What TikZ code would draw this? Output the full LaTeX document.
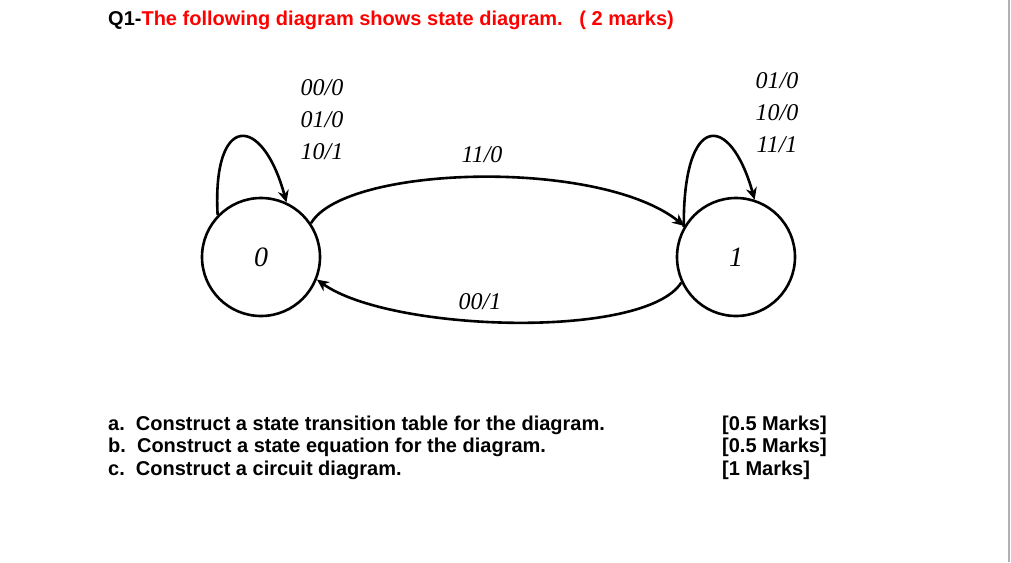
\documentclass[tikz,border=0pt]{standalone}
\usepackage{fontspec}
\setmainfont{Liberation Serif}
\setsansfont{Liberation Sans}
\usetikzlibrary{arrows.meta}
\definecolor{qred}{RGB}{255,0,0}
\begin{document}
\begin{tikzpicture}[x=1pt, y=-1pt,
  state/.style={draw, circle, line width=2.6pt, minimum size=118pt, font=\fontsize{28}{28}\selectfont\itshape},
  trans/.style={line width=2.6pt, -{Stealth[length=12pt,width=11pt]}},
  lbl/.style={font=\fontsize{24}{32}\selectfont\itshape, align=center, inner sep=0pt},
  txt/.style={font=\sffamily\bfseries\fontsize{20}{22.5}\selectfont, anchor=west, inner sep=0pt, align=left}]
\useasboundingbox (0,0) rectangle (1011,562);
\draw[gray!60, line width=1.5pt] (1009,0) -- (1009,562);
\node[txt] (title) at (108,20) {Q1-\textcolor{qred}{The following diagram shows state diagram.\ \ \ ( 2 marks)}};
\node[state] (s0) at (261,257) {0};
\node[state] (s1) at (736,257) {1};
\node[lbl] (l0) at (322,120) {00/0\\01/0\\10/1};
\node[lbl] (l1) at (777,113) {01/0\\10/0\\11/1};
\node[lbl] (l01) at (482,155) {11/0};
\node[lbl] (l10) at (480,302) {00/1};
\draw[trans] (s0.136) .. controls (212,113) and (262,113) .. (s0.65);
\draw[trans] (s1.150) .. controls (683,112) and (730,112) .. (s1.72);
\draw[trans] (s0.34) .. controls (345,165) and (600,158) .. (s1.149);
\draw[trans] (s1.205) .. controls (645,340) and (390,332) .. (s0.338);
\node[txt] (qa) at (108,425) {a.\ \ Construct a state transition table for the diagram.};
\node[txt] (qb) at (108,447) {b.\ \ Construct a state equation for the diagram.};
\node[txt] (qc) at (108,470) {c.\ \ Construct a circuit diagram.};
\node[txt] (ma) at (722,425) {[0.5 Marks]};
\node[txt] (mb) at (722,447) {[0.5 Marks]};
\node[txt] (mc) at (722,470) {[1 Marks]};
\end{tikzpicture}
\end{document}
